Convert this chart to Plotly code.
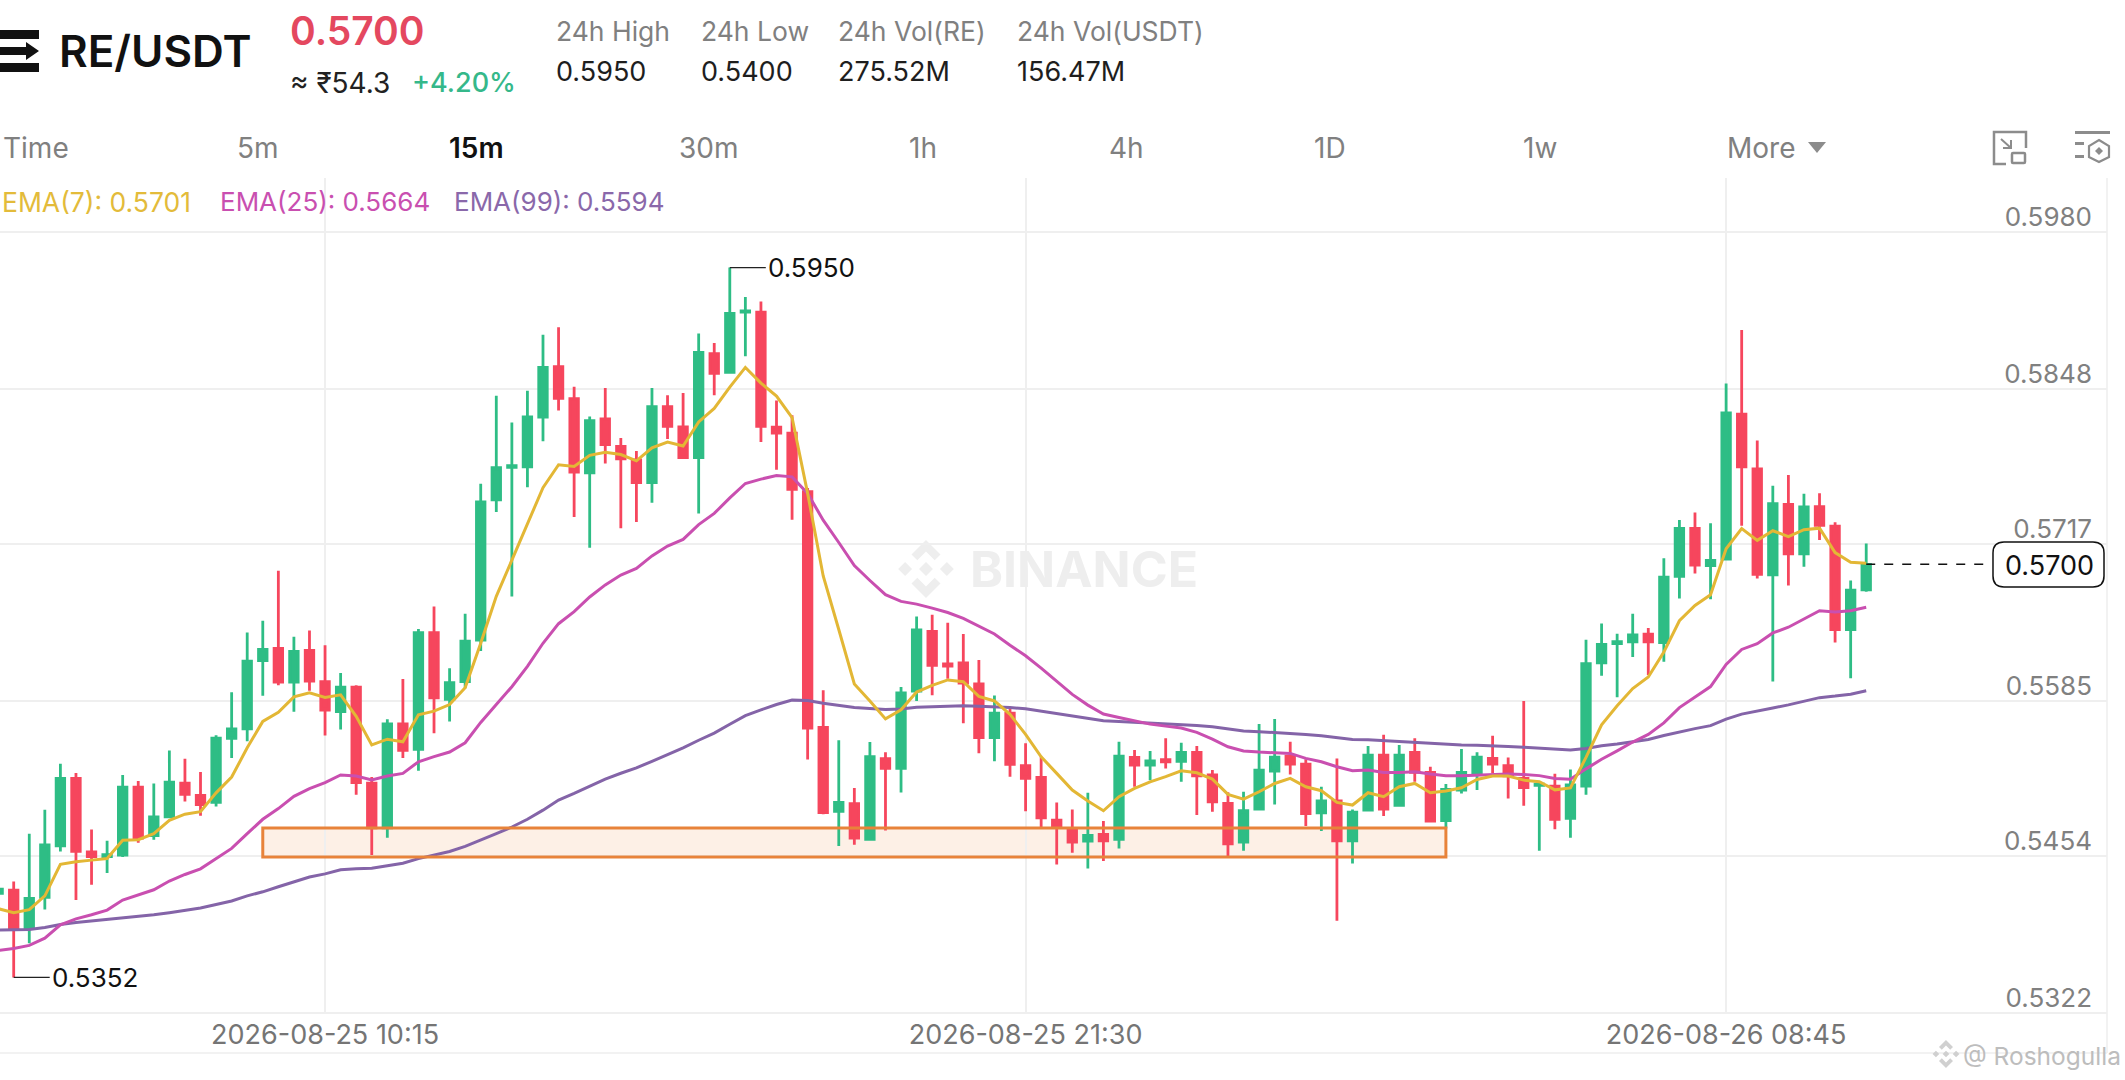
import pandas as pd
import plotly.graph_objects as go

W, H = 2125, 1080
FONT = 'Inter'

# 15m candles, 2026-08-25 05:00 -> 2026-08-26 11:00
times = pd.date_range('2026-08-25 05:00', periods=121, freq='15min')

opens = [.54228,.54254,.53940,.54194,.54628,.55196,.54577,.54538,.54551,.55123,.54714,.54873,.55157,.55054,.54994,.55535,.55613,.56189,.56292,.56008,.56275,
         .56012,.55759,.55965,.55157,.54779,.55656,.55441,.56425,.55862,.56012,.56361,.57543,.57818,.57822,.58241,
         .58666,.58395,.57771,.58226,.57993,.57880,.57688,.58328,.58158,.57899,.58775,.58617,.59125,.59125,.58155,.58106,.57613,.55627,.54920,.54984,.54683,.55364,.55281,.55932,.56436,.56161,.56169,.55992,.55540,.55747,.55304,.55206,
         .54845,.54775,.54669,.54725,.54683,.55373,.55309,.55354,.55340,.55416,.55225,.54986,.54660,.54938,.55258,.55385,.55317,.54907,.55006,.54671,.54930,.55393,.54969,.55416,.55247,.54840,.55098,.55239,.55365,.55303,.55197,.55138,
         .55132,.54861,.55132,.56170,.56332,.56348,.56412,.56341,.56899,.57302,.56989,.57044,.58266,.57805,.56912,.57505,.57089,.57486,.57321,.56451,.56786]
highs = [.54450,.54327,.54731,.54933,.55320,.55243,.54766,.54671,.55226,.55174,.55153,.55432,.55363,.55251,.55561,.55922,.56425,.56524,.56945,.56391,.56442,
         .56318,.56085,.55982,.55208,.55694,.56034,.56455,.56644,.56124,.56584,.57680,.58420,.58196,.58463,.58935,
         .58997,.58497,.58245,.58486,.58064,.57955,.58486,.58425,.58444,.58944,.58865,.59500,.59253,.59215,.58380,.58256,.57643,.55939,.55518,.55115,.55503,.55416,.55966,.56560,.56575,.56507,.56413,.56195,.55894,.55785,.55492,.55379,
         .54994,.54935,.55076,.54837,.55505,.55435,.55427,.55534,.55497,.55469,.55267,.55079,.55084,.55654,.55696,.55505,.55357,.55126,.55365,.54935,.55469,.55564,.55477,.55534,.55295,.55149,.55444,.55416,.55556,.55373,.55848,.55149,
         .55235,.55271,.56364,.56502,.56415,.56583,.56464,.57051,.57373,.57437,.57347,.58524,.58975,.58044,.57663,.57753,.57595,.57599,.57354,.56864,.57176]
lows = [.54050,.53520,.53807,.54091,.54581,.54173,.54301,.54400,.54534,.54654,.54680,.54873,.55002,.54882,.54959,.55368,.55509,.55892,.55982,.55759,.55935,
        .55557,.55608,.55058,.54551,.54697,.55368,.55260,.55578,.55677,.55956,.56270,.57440,.56730,.57650,.58037,
        .58297,.57399,.57139,.57850,.57305,.57357,.57519,.58057,.57899,.57429,.58425,.58606,.58753,.58030,.57797,.57376,.55356,.54894,.54627,.54638,.54672,.54758,.55078,.55849,.55898,.56037,.55661,.55409,.55341,.55210,.54920,.54777,
        .54472,.54570,.54438,.54500,.54607,.55126,.55182,.55281,.55168,.54888,.54916,.54537,.54587,.54938,.54977,.55230,.54795,.54753,.53997,.54480,.54921,.54879,.54969,.55168,.54831,.54775,.55070,.55098,.55239,.55028,.54966,.54587,
        .54768,.54697,.55058,.56061,.55880,.56219,.56067,.56180,.56712,.56922,.56706,.57044,.57325,.56880,.56012,.56822,.56980,.57205,.56341,.56041,.56770]
closes = [.54263,.53940,.54185,.54637,.55196,.54581,.54538,.54555,.55123,.54693,.54873,.55166,.55062,.54976,.55535,.55613,.56184,.56283,.56008,.56266,.56017,
          .55772,.55965,.55161,.54779,.55656,.55432,.56425,.55875,.56004,.56352,.57526,.57814,.57831,.58243,.58660,
          .58399,.57778,.58211,.58008,.57888,.57688,.58328,.58162,.57899,.58786,.58610,.59114,.59136,.58162,.58106,.57632,.55620,.54909,.54995,.54694,.55379,.55281,.55917,.56447,.56150,.56142,.55999,.55540,.55747,.55315,.55198,.54864,
          .54781,.54660,.54716,.54671,.55385,.55309,.55345,.55337,.55416,.55219,.55000,.54646,.54924,.55267,.55376,.55317,.54899,.55006,.54671,.54913,.55393,.54938,.55393,.55247,.54837,.55104,.55247,.55376,.55317,.55219,.55118,.55149,
          .54851,.55142,.56164,.56325,.56348,.56406,.56348,.56893,.57302,.56993,.57034,.58276,.57821,.56915,.57512,.57089,.57483,.57328,.56451,.56783,.57000]

ema7 = [.54099,.54065,.54091,.54207,.54473,.54495,.54508,.54521,.54675,.54680,.54731,.54843,.54895,.54916,.55075,.55208,.55454,.55677,.55754,.55883,.55918,
        .55879,.55901,.55720,.55479,.55527,.55505,.55733,.55763,.55819,.55961,.56335,.56730,.57031,.57332,.57646,
        .57839,.57824,.57918,.57944,.57925,.57872,.57982,.58030,.57997,.58200,.58313,.58493,.58659,.58527,.58418,.58237,.57598,.56902,.56451,.55992,.55849,.55698,.55774,.55924,.55981,.56026,.56011,.55887,.55849,.55736,.55567,.55379,
        .55239,.55098,.55006,.54924,.55042,.55112,.55168,.55211,.55261,.55244,.55191,.55062,.55022,.55084,.55154,.55197,.55126,.55093,.54994,.54972,.55076,.55042,.55126,.55154,.55076,.55090,.55118,.55188,.55216,.55216,.55182,.55168,
        .55100,.55116,.55374,.55648,.55809,.55954,.56051,.56261,.56525,.56654,.56744,.57131,.57302,.57202,.57283,.57234,.57292,.57305,.57099,.57018,.57009]
ema25 = [.53747,.53764,.53790,.53850,.53962,.54013,.54048,.54087,.54172,.54215,.54258,.54332,.54387,.54435,.54521,.54607,.54731,.54852,.54942,.55045,.55110,
         .55161,.55226,.55217,.55183,.55217,.55239,.55337,.55380,.55419,.55497,.55668,.55819,.55969,.56141,.56335,
         .56500,.56601,.56725,.56827,.56910,.56966,.57071,.57154,.57210,.57335,.57429,.57560,.57681,.57718,.57748,.57737,.57598,.57372,.57184,.56989,.56864,.56744,.56688,.56665,.56631,.56594,.56545,.56477,.56413,.56319,.56230,.56125,
         .56017,.55904,.55814,.55739,.55710,.55680,.55654,.55637,.55621,.55584,.55528,.55463,.55427,.55418,.55413,.55407,.55365,.55337,.55295,.55261,.55267,.55247,.55247,.55253,.55233,.55219,.55219,.55225,.55230,.55233,.55230,.55220,
         .55196,.55190,.55277,.55358,.55429,.55503,.55567,.55664,.55793,.55883,.55970,.56157,.56283,.56331,.56422,.56470,.56541,.56609,.56599,.56609,.56638]
ema99 = [.53919,.53919,.53923,.53940,.53966,.53983,.53996,.54005,.54022,.54035,.54048,.54065,.54087,.54104,.54134,.54164,.54207,.54241,.54284,.54327,.54366,
         .54392,.54426,.54435,.54439,.54461,.54482,.54521,.54551,.54581,.54624,.54675,.54731,.54787,.54852,.54929,
         .55014,.55070,.55134,.55191,.55240,.55285,.55341,.55398,.55454,.55518,.55578,.55653,.55725,.55774,.55819,.55856,.55852,.55830,.55811,.55793,.55785,.55777,.55781,.55796,.55800,.55804,.55808,.55804,.55800,.55793,.55783,.55762,
         .55747,.55724,.55705,.55682,.55677,.55671,.55660,.55654,.55649,.55643,.55632,.55612,.55595,.55590,.55584,.55578,.55567,.55556,.55539,.55525,.55522,.55514,.55508,.55503,.55491,.55483,.55477,.55475,.55472,.55465,.55459,.55452,
         .55442,.55435,.55448,.55471,.55487,.55503,.55525,.55558,.55590,.55616,.55641,.55696,.55738,.55761,.55790,.55816,.55848,.55877,.55890,.55906,.55935]

price_ticks = [0.5980, 0.5848, 0.5717, 0.5585, 0.5454, 0.5322]
time_ticks = ['2026-08-25 10:15', '2026-08-25 21:30', '2026-08-26 08:45']

high_idx, low_idx = highs.index(max(highs)), lows.index(min(lows))
zone_start, zone_end = '2026-08-25 09:15', '2026-08-26 04:15'
zone_top, zone_bottom = 0.54778, 0.54534
last_price_end = '2026-08-26 13:00'

# header texts: text, left px, centre px, size, colour, weight
header = [
    ('RE/USDT', 57, 51, 44, '#111111', 600),
    ('0.5700', 288, 30, 39, '#e4485f', 600),
    ('≈ ₹54.3', 288, 83, 28, '#222222', 400),
    ('+4.20%', 410, 83, 27, '#35b88a', 500),
    ('24h High', 554, 31, 26.5, '#808080', 400),
    ('0.5950', 554, 72, 27, '#1e1e1e', 400),
    ('24h Low', 699, 31, 26.5, '#808080', 400),
    ('0.5400', 699, 72, 27, '#1e1e1e', 400),
    ('24h Vol(RE)', 836, 31, 26.5, '#808080', 400),
    ('275.52M', 836, 72, 27, '#1e1e1e', 400),
    ('24h Vol(USDT)', 1015, 31, 26.5, '#808080', 400),
    ('156.47M', 1015, 72, 27, '#1e1e1e', 400),
    ('Time', 1, 148, 28, '#808080', 400),
    ('5m', 235, 148, 28, '#808080', 400),
    ('15m', 447, 148, 28, '#111111', 600),
    ('30m', 677, 148, 28, '#808080', 400),
    ('1h', 907, 148, 28, '#808080', 400),
    ('4h', 1107, 148, 28, '#808080', 400),
    ('1D', 1312, 148, 28, '#808080', 400),
    ('1w', 1521, 148, 28, '#808080', 400),
    ('More', 1725, 148, 28, '#808080', 400),
    ('EMA(7): 0.5701', 0, 202, 26.5, '#e3bb3a', 400),
    ('EMA(25): 0.5664', 218, 202, 26, '#c94fb0', 400),
    ('EMA(99): 0.5594', 452, 202, 26, '#8a68aa', 400),
    ('@ Roshogulla', 1961, 1056, 24.5, '#bdbdbd', 400),
]


def px(x):
    return x / W


def py(y):
    return 1 - y / H


def poly(points):
    return 'M' + ' L'.join(f'{px(x):.5f},{py(y):.5f}' for x, y in points) + ' Z'


def rounded(x0, y0, x1, y1, r):
    return (f'M{px(x0 + r):.5f},{py(y0):.5f} L{px(x1 - r):.5f},{py(y0):.5f} '
            f'Q{px(x1):.5f},{py(y0):.5f} {px(x1):.5f},{py(y0 + r):.5f} '
            f'L{px(x1):.5f},{py(y1 - r):.5f} Q{px(x1):.5f},{py(y1):.5f} {px(x1 - r):.5f},{py(y1):.5f} '
            f'L{px(x0 + r):.5f},{py(y1):.5f} Q{px(x0):.5f},{py(y1):.5f} {px(x0):.5f},{py(y1 - r):.5f} '
            f'L{px(x0):.5f},{py(y0 + r):.5f} Q{px(x0):.5f},{py(y0):.5f} {px(x0 + r):.5f},{py(y0):.5f} Z')


def paperShape(fig, path, fill=None, line=None, width=0, layer='above'):
    fig.add_shape(type='path', path=path, xref='paper', yref='paper', layer=layer,
                  fillcolor=fill if fill else 'rgba(0,0,0,0)',
                  line=dict(color=line if line else 'rgba(0,0,0,0)', width=width))


def logo(fig, cx, cy, r, color):
    # the exchange diamond mark
    s = r * 0.24
    for dx, dy in [(0, 0), (-r * 0.72, 0), (r * 0.72, 0)]:
        paperShape(fig, poly([(cx + dx, cy + dy - s), (cx + dx + s, cy + dy),
                              (cx + dx, cy + dy + s), (cx + dx - s, cy + dy)]), fill=color, layer='below')
    for sign in (-1, 1):
        paperShape(fig, poly([(cx, cy + sign * r), (cx + r * 0.5, cy + sign * r * 0.5),
                              (cx + r * 0.3, cy + sign * r * 0.3), (cx, cy + sign * r * 0.6),
                              (cx - r * 0.3, cy + sign * r * 0.3), (cx - r * 0.5, cy + sign * r * 0.5)]),
                   fill=color, layer='below')


fig = go.Figure()

fig.add_trace(go.Candlestick(x=times, open=opens, high=highs, low=lows, close=closes,
                             increasing=dict(line=dict(color='#2EBD85', width=2.8), fillcolor='#2EBD85'),
                             decreasing=dict(line=dict(color='#F6465D', width=2.8), fillcolor='#F6465D'),
                             whiskerwidth=0, showlegend=False))
for name, vals, color in [('EMA(99)', ema99, '#8464a8'), ('EMA(25)', ema25, '#c94fb0'), ('EMA(7)', ema7, '#e3b735')]:
    fig.add_trace(go.Scatter(x=times, y=vals, mode='lines', name=name,
                             line=dict(color=color, width=3), showlegend=False))

# support zone: pale fill under the candles, outline over them
fig.add_shape(type='rect', x0=zone_start, x1=zone_end, y0=zone_bottom, y1=zone_top,
              fillcolor='#fdf0e6', line_width=0, layer='below')
fig.add_shape(type='rect', x0=zone_start, x1=zone_end, y0=zone_bottom, y1=zone_top,
              line=dict(color='#e8833a', width=3), layer='above')

# dashed last price line
fig.add_shape(type='line', x0=times[-1], x1=last_price_end, y0=closes[-1], y1=closes[-1],
              line=dict(color='#111111', width=1.5, dash='dash'))

# frame lines
fig.add_shape(type='line', xref='paper', yref='paper', x0=px(2107), x1=px(2107), y0=py(178), y1=py(1053),
              line=dict(color='#eeeeee', width=1.5), layer='below')
fig.add_shape(type='line', xref='paper', yref='paper', x0=0, x1=px(2107), y0=py(1053), y1=py(1053),
              line=dict(color='#eeeeee', width=1.5), layer='below')

# last price tag
paperShape(fig, rounded(1993, 542, 2104, 587, 11), fill='white', line='#111111', width=1.5)
fig.add_annotation(text=f'{closes[-1]:.4f}', xref='paper', yref='paper', x=px(2049), y=py(565),
                   xanchor='center', showarrow=False, font=dict(family=FONT, size=27, color='#111111'))

# high / low callouts
for idx, val, off in [(high_idx, highs[high_idx], 36), (low_idx, lows[low_idx], 36)]:
    fig.add_annotation(text=f'{val:.4f}', x=times[idx], y=val, ax=off, ay=0, axref='pixel', ayref='pixel',
                       xanchor='left', showarrow=True, arrowhead=0, arrowwidth=1.3, arrowcolor='#222222',
                       standoff=0, startstandoff=0, font=dict(family=FONT, size=26, color='#111111'))

for text, x, y, size, color, weight in header:
    fig.add_annotation(text=text, xref='paper', yref='paper', x=px(x), y=py(y), xanchor='left', yanchor='middle',
                       showarrow=False, font=dict(family=FONT, size=size, color=color, weight=weight))

# watermarks
logo(fig, 926, 569, 29, '#eeeeee')
fig.add_annotation(text='BINANCE', xref='paper', yref='paper', x=px(1084), y=py(569), xanchor='center', showarrow=False,
                   font=dict(family=FONT, size=50, color='#eeeeee', weight=700))
logo(fig, 1946, 1054, 14, '#d0d0d0')

# pair icon, top left
paperShape(fig, poly([(0, 30), (39, 30), (39, 39), (0, 39)]), fill='#111111')
paperShape(fig, poly([(0, 63), (39, 63), (39, 72), (0, 72)]), fill='#111111')
paperShape(fig, poly([(0, 47), (26, 47), (26, 42), (39, 51), (26, 60), (26, 55), (0, 55)]), fill='#111111')

# More triangle and right hand toolbar icons
paperShape(fig, poly([(1808, 142), (1826, 142), (1817, 153)]), fill='#8c8c8c')
paperShape(fig, f'M{px(2006):.5f},{py(164):.5f} L{px(1994):.5f},{py(164):.5f} L{px(1994):.5f},{py(132):.5f} '
                f'L{px(2026):.5f},{py(132):.5f} L{px(2026):.5f},{py(148):.5f}', line='#8c8c8c', width=2.5)
paperShape(fig, rounded(2012, 153, 2025, 163, 1), line='#8c8c8c', width=2.5)
paperShape(fig, f'M{px(2001):.5f},{py(139):.5f} L{px(2011):.5f},{py(148):.5f} M{px(2011):.5f},{py(140):.5f} '
                f'L{px(2011):.5f},{py(148):.5f} L{px(2003):.5f},{py(148):.5f}', line='#8c8c8c', width=2)
paperShape(fig, poly([(2075, 131), (2110, 131), (2110, 134), (2075, 134)]), fill='#8c8c8c')
paperShape(fig, poly([(2075, 142), (2084, 142), (2084, 145), (2075, 145)]), fill='#8c8c8c')
paperShape(fig, poly([(2075, 155), (2084, 155), (2084, 158), (2075, 158)]), fill='#8c8c8c')
paperShape(fig, poly([(2099, 140), (2109, 146), (2109, 157), (2099, 162), (2089, 157), (2089, 146)]),
           line='#8c8c8c', width=2.2)
paperShape(fig, poly([(2099, 147), (2103, 151), (2099, 155), (2095, 151)]), fill='#8c8c8c')

fig.update_layout(
    width=W, height=H,
    margin=dict(l=0, r=0, t=0, b=0),
    paper_bgcolor='white', plot_bgcolor='white',
    font_family=FONT,
    showlegend=False,
    boxgap=0.22,
    xaxis=dict(domain=[0, 2107 / W], range=['2026-08-25 05:01:48', '2026-08-26 14:52:00'],
               rangeslider=dict(visible=False), tickmode='array', tickvals=time_ticks, ticktext=time_ticks,
               showgrid=True, gridcolor='#efefef', gridwidth=1.5, zeroline=False, showline=False, ticks='',
               ticklabelstandoff=2, tickfont=dict(family=FONT, size=27, color='#757575')),
    yaxis=dict(domain=[1 - 1014.19 / H, 1 - 178 / H], range=[0.5321, 0.60255], side='right',
               tickmode='array', tickvals=price_ticks, ticktext=[f'{p:.4f}' for p in price_ticks],
               ticklabelposition='inside', ticklabelstandoff=12, ticklabelshift=-15,
               showgrid=True, gridcolor='#efefef', gridwidth=1.5, zeroline=False, showline=False, ticks='',
               tickfont=dict(family=FONT, size=26, color='#808080')),
)

fig.write_html('out.html', config=dict(displayModeBar=False), post_script="document.body.style.margin='0'")
